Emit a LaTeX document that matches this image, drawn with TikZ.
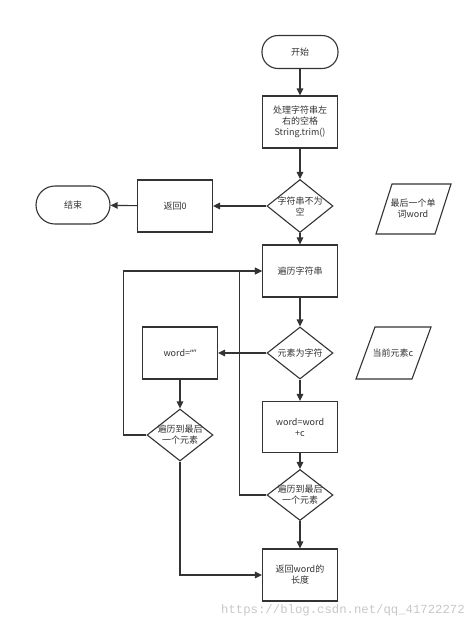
\documentclass[tikz,border=0pt]{standalone}
\usepackage{fontspec}
\setmainfont{Noto Sans CJK SC}
\newfontfamily\wmfont{Liberation Mono}
\newfontfamily\latinfont{Open Sans}
\usetikzlibrary{shapes.geometric,arrows.meta}

\tikzset{
  base/.style={draw=black!80,line width=1.1pt,text=black!80,font=\fontsize{9}{11}\selectfont,align=center,inner sep=0pt},
  term/.style={base,rounded corners=16pt,minimum width=76pt,minimum height=33pt},
  proc/.style={base,minimum width=75pt,minimum height=52pt},
  dec/.style={base,diamond,minimum width=66pt,minimum height=53pt},
  dectext/.style={text=black!80,font=\fontsize{9}{11}\selectfont,align=center},
  iotext/.style={dectext,inner sep=0pt},
  ioline/.style={draw=black!80,line width=1.1pt,line join=miter},
  arr/.style={draw=black!80,line width=1.1pt,-{Triangle[length=7pt,width=6.5pt]}},
}

\begin{document}
\begin{tikzpicture}[x=1pt,y=-1pt]
  \useasboundingbox (0,0) rectangle (474,625);
  % main column
  \node[term] (start) at (300,52) {开始};
  \node[proc] (trim) at (300,122) {处理字符串左\\右的空格\\String.trim()};
  \node[dec,label={[dectext]center:字符串不为\\空}] (notempty) at (300,206) {};
  \node[proc] (ret0) at (175,206) {返回0};
  \node[term,minimum width=74pt,minimum height=38pt,rounded corners=19pt] (stop) at (73,205) {结束};
  \node[proc] (loop) at (300,271) {遍历字符串};
  \node[dec,minimum height=52pt,label={[dectext]center:元素为字符}] (ischar) at (300,353) {};
  \node[proc] (reset) at (180,353) {word={\latinfont “”}};
  \node[dec,minimum height=52pt,label={[dectext]center:遍历到最后\\一个元素}] (lastA) at (180,435) {};
  \node[proc,minimum height=51pt] (append) at (300,427) {word=word\\+c};
  \node[dec,minimum height=51pt,label={[dectext]center:遍历到最后\\一个元素}] (lastB) at (300,495) {};
  \node[proc] (retlen) at (300,575) {返回word的\\长度};

  % data boxes
  \draw[ioline] (376,234) -- (392,184) -- (451,184) -- (435,234) -- cycle;
  \node[iotext] (lastword) at (413,209) {最后一个单\\词word};
  \draw[ioline] (356,379) -- (375,327) -- (431,327) -- (412,379) -- cycle;
  \node[iotext] (cur) at (393,353) {当前元素c};

  % connectors
  \draw[arr] (start) -- (trim);
  \draw[arr] (trim) -- (notempty);
  \draw[arr] (notempty) -- (ret0);
  \draw[arr] (ret0) -- (stop);
  \draw[arr] (notempty) -- (loop);
  \draw[arr] (loop) -- (ischar);
  \draw[arr] (ischar) -- (reset);
  \draw[arr] (ischar) -- (append);
  \draw[arr] (reset) -- (lastA);
  \draw[arr] (append) -- (lastB);
  \draw[arr] (lastB) -- (retlen);
  \draw[arr] (lastA.west) -- ++(-23,0) |- (loop.west);
  \draw[arr] (lastB.west) -- ++(-27,0) |- (loop.west);
  \draw[arr] (lastA.south) |- (retlen.west);

  \node[font=\wmfont\fontsize{12.3}{14}\selectfont,text=black!22] (mark) at (343,610) {https://blog.csdn.net/qq\_41722272};
\end{tikzpicture}
\end{document}
